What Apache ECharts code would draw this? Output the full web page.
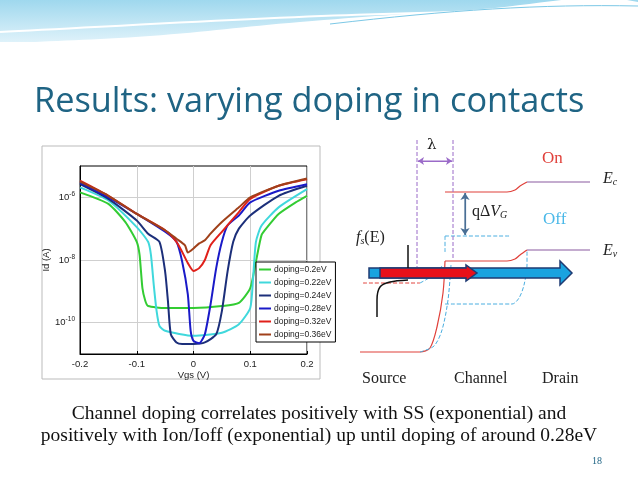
<!DOCTYPE html>
<html>
<head>
<meta charset="utf-8">
<script src="https://cdn.jsdelivr.net/npm/echarts@6/dist/echarts.min.js"></script>
<style>html,body{margin:0;padding:0;background:#fff}#main{width:638px;height:478px}</style>
</head>
<body>
<div id="main"></div>
<script>
// Id-Vgs curves, Id stored as log10(A)
var names = ['doping=0.2eV', 'doping=0.22eV', 'doping=0.24eV', 'doping=0.28eV', 'doping=0.32eV', 'doping=0.36eV'];
var colors = ['#33cc33', '#40d8dc', '#1c2f7a', '#1a1ac8', '#e0201a', '#a0401a'];

var vgs02 = [-0.2, -0.15, -0.12, -0.1, -0.095, -0.09, -0.085, -0.08, -0.05, 0, 0.05, 0.08, 0.1, 0.11, 0.12, 0.13, 0.15, 0.18, 0.2];
var id02 = [-5.84, -6.21, -6.79, -7.42, -7.84, -8.9, -9.3, -9.47, -9.53, -9.53, -9.47, -9.37, -8.9, -8.05, -7.2, -6.95, -6.53, -6.16, -5.95];

var vgs022 = [-0.2, -0.15, -0.1, -0.08, -0.075, -0.07, -0.065, -0.06, -0.05, 0, 0.05, 0.08, 0.1, 0.105, 0.11, 0.12, 0.15, 0.2];
var id022 = [-5.68, -6.1, -6.95, -7.42, -7.84, -8.8, -9.63, -10.1, -10.26, -10.42, -10.32, -10.05, -9.53, -8.58, -7.42, -6.9, -6.32, -5.74];

var vgs024 = [-0.2, -0.15, -0.1, -0.08, -0.06, -0.05, -0.045, -0.04, -0.03, -0.02, 0, 0.02, 0.04, 0.05, 0.06, 0.07, 0.08, 0.1, 0.15, 0.2];
var id024 = [-5.58, -6.05, -6.74, -7.16, -7.42, -8.37, -9.32, -10.37, -10.63, -10.68, -10.68, -10.63, -10.37, -9.63, -8.37, -7.42, -7.0, -6.58, -5.95, -5.63];

var vgs028 = [-0.2, -0.15, -0.1, -0.05, -0.03, -0.02, -0.01, -0.005, 0, 0.01, 0.02, 0.03, 0.04, 0.05, 0.06, 0.08, 0.1, 0.15, 0.2];
var id028 = [-5.53, -6.0, -6.53, -7.1, -7.42, -8.05, -9.1, -10.26, -10.58, -10.66, -10.37, -9.42, -8.26, -7.42, -6.9, -6.58, -6.16, -5.79, -5.58];

var vgs032 = [-0.2, -0.15, -0.1, -0.05, -0.03, -0.02, -0.01, 0, 0.01, 0.02, 0.03, 0.05, 0.08, 0.1, 0.15, 0.2];
var id032 = [-5.47, -5.95, -6.53, -7.05, -7.42, -7.74, -8.1, -8.35, -8.26, -8.0, -7.53, -7.1, -6.47, -6.05, -5.63, -5.42];

var vgs036 = [-0.2, -0.15, -0.1, -0.05, -0.03, -0.015, -0.01, 0, 0.01, 0.02, 0.03, 0.05, 0.08, 0.1, 0.15, 0.2];
var id036 = [-5.5, -5.95, -6.53, -7.05, -7.32, -7.53, -7.76, -7.63, -7.47, -7.37, -7.16, -6.79, -6.32, -6.0, -5.63, -5.4];

var vgsSets = [vgs02, vgs022, vgs024, vgs028, vgs032, vgs036];
var idSets = [id02, id022, id024, id028, id032, id036];

// band diagram schematic (local units of the right-hand panel)
var onEc = [[115, 52], [177, 52], [185, 50], [190, 46], [197, 42]];
var drainEc = [[197, 42], [260, 42]];
var offEc = [[115, 96], [180, 96]];
var offEcStep = [[115, 96], [115, 112]];
var onEv = [[115, 121], [177, 121], [185, 119], [190, 115], [197, 110]];
var drainEv = [[197, 110], [260, 110]];
var offEv = [[115, 164], [182, 164], [189, 158], [194, 145], [197, 125], [197, 110]];
var srcOn = [[30, 212], [90, 212], [100, 208], [107, 187], [113, 153], [115, 121]];
var srcOff = [[90, 212], [104, 206], [112, 190], [118, 160], [121, 125]];
var srcFermi = [[33, 143], [90, 143]];
var srcFermiOff = [[90, 143], [102, 136], [112, 126]];
var lambdaL = [[87, 0], [87, 127]];
var lambdaR = [[123, 0], [123, 120]];
var lambdaArrow = [[88, 21], [122, 21]];
var dvArrow = [[135, 53], [135, 95]];
var fsTop = [[78, 105], [78, 128]];
var fsBottom = [[78, 140], [60, 142], [50, 147], [47, 160], [47, 177]];
var arrows = [[39, 242, 133], [50, 147, 133]];

var chart = echarts.init(document.getElementById('main'));

var series = [];
for (var i = 0; i < names.length; i++) {
  var pts = [];
  for (var j = 0; j < vgsSets[i].length; j++) pts.push([vgsSets[i][j], idSets[i][j]]);
  series.push({
    name: names[i], type: 'line', xAxisIndex: 0, yAxisIndex: 0,
    data: pts, showSymbol: false, smooth: 0.2,
    lineStyle: { color: colors[i], width: 2 }, itemStyle: { color: colors[i] }
  });
}

function band(data, color, dashed, width, extra) {
  var s = {
    type: 'line', xAxisIndex: 1, yAxisIndex: 1, data: data, showSymbol: false,
    silent: true, smooth: 0.3, z: 3,
    lineStyle: { color: color, width: width || 1, type: dashed ? 'dashed' : 'solid' }
  };
  if (extra) for (var k in extra) s[k] = extra[k];
  return s;
}

series.push(band(onEc, '#e0403a', false, 1.2));
series.push(band(drainEc, '#8a5aa0', false, 1.2));
series.push(band(offEc, '#4aaee0', true, 1));
series.push(band(offEcStep, '#4aaee0', true, 1));
series.push(band(onEv, '#e0403a', false, 1.2));
series.push(band(drainEv, '#8a5aa0', false, 1.2));
series.push(band(offEv, '#4aaee0', true, 1));
series.push(band(srcOn, '#e0403a', false, 1.2));
series.push(band(srcOff, '#4aaee0', true, 1));
series.push(band(srcFermi, '#e0403a', true, 1));
series.push(band(srcFermiOff, '#4aaee0', true, 1));
series.push(band(lambdaL, '#9a6ac8', true, 1, { smooth: false }));
series.push(band(lambdaR, '#9a6ac8', true, 1, { smooth: false }));
series.push(band(lambdaArrow, '#9a6ac8', false, 1, { smooth: false, showSymbol: false,
  markLine: { silent: true, symbol: ['arrow', 'arrow'], symbolSize: 6, label: { show: false }, lineStyle: { color: '#9a6ac8', type: 'solid', width: 1 }, data: [[{ coord: lambdaArrow[0] }, { coord: lambdaArrow[1] }]] } }));
series.push(band(dvArrow, '#4a6f95', false, 1.2, { smooth: false, showSymbol: false,
  markLine: { silent: true, symbol: ['arrow', 'arrow'], symbolSize: 7, label: { show: false }, lineStyle: { color: '#4a6f95', type: 'solid', width: 1.2 }, data: [[{ coord: dvArrow[0] }, { coord: dvArrow[1] }]] } }));
series.push(band(fsTop, '#111', false, 1.5, { smooth: false, z: 6 }));
series.push(band(fsBottom, '#111', false, 1.5, { z: 6 }));

// transport arrows: [start, tip, y]
var arrowShape = [
  { body: 5, head: 12, len: 12, fill: '#1aa3e0' },
  { body: 5, head: 8, len: 11, fill: '#e8101a' }
];
series.push({
  type: 'custom', xAxisIndex: 1, yAxisIndex: 1, data: arrows, z: 5, silent: true,
  renderItem: function (params, api) {
    var a = arrowShape[params.dataIndex];
    var p0 = api.coord([api.value(0), api.value(2)]);
    var p1 = api.coord([api.value(1), api.value(2)]);
    var hx = p1[0] - a.len, y = p0[1];
    return {
      type: 'polygon',
      shape: { points: [[p0[0], y - a.body], [hx, y - a.body], [hx, y - a.head], [p1[0], y], [hx, y + a.head], [hx, y + a.body], [p0[0], y + a.body]] },
      style: { fill: a.fill, stroke: '#1f3b73', lineWidth: 1.5 }
    };
  }
});

var serif = 'Liberation Serif';
function it(size) { return { fontStyle: 'italic', fontFamily: serif, fontSize: size, fill: '#222' }; }

var option = {
  animation: false,
  backgroundColor: '#ffffff',
  grid: [
    { left: 80, top: 166, width: 227, height: 188, show: true, borderColor: '#000', borderWidth: 1, backgroundColor: '#fff' },
    { left: 330, top: 140, width: 300, height: 250, show: false }
  ],
  legend: {
    data: names, orient: 'vertical', left: 256, top: 262,
    backgroundColor: '#fff', borderColor: '#000', borderWidth: 1,
    padding: [3, 4, 3, 3], itemGap: 4, itemWidth: 12, itemHeight: 2,
    icon: 'rect', z: 10,
    textStyle: { fontFamily: 'Liberation Sans Narrow, Liberation Sans', fontSize: 8.5, color: '#222', padding: [0, 0, 0, -2] }
  },
  xAxis: [
    {
      type: 'value', gridIndex: 0, min: -0.2, max: 0.2, interval: 0.1,
      name: 'Vgs (V)', nameLocation: 'middle', nameGap: 16,
      nameTextStyle: { fontFamily: 'Liberation Sans', fontSize: 9.5, color: '#222' },
      axisLine: { onZero: false, lineStyle: { color: '#000' } },
      axisTick: { inside: true, length: 3, lineStyle: { color: '#000' } },
      splitLine: { show: true, lineStyle: { color: '#cfcfcf' } },
      axisLabel: { fontFamily: 'Liberation Sans', fontSize: 9.5, color: '#222', margin: 5,
        formatter: function (v) { return v === 0 ? '0' : String(Math.round(v * 10) / 10); } }
    },
    { type: 'value', gridIndex: 1, min: 0, max: 300, show: false }
  ],
  yAxis: [
    {
      type: 'value', gridIndex: 0, min: -11, max: -5, interval: 1,
      name: 'Id (A)', nameLocation: 'middle', nameGap: 26, nameRotate: 90,
      nameTextStyle: { fontFamily: 'Liberation Sans', fontSize: 9.5, color: '#222' },
      axisLine: { onZero: false, lineStyle: { color: '#000' } },
      axisTick: { show: false },
      splitLine: { show: true, lineStyle: { color: ['rgba(0,0,0,0)', '#cfcfcf'] } },
      axisLabel: {
        fontFamily: 'Liberation Sans', fontSize: 9.5, color: '#222', margin: 5,
        formatter: function (v) { return (Math.abs(v) % 2 === 0 && v > -11 && v < -5) ? '10{s|' + v + '}' : ''; },
        rich: { s: { fontSize: 6.5, verticalAlign: 'top', padding: [0, 0, 6, 0], color: '#222' } }
      }
    },
    { type: 'value', gridIndex: 1, min: 0, max: 250, inverse: true, show: false }
  ],
  graphic: [
    // slide decoration at top
    { type: 'rect', shape: { x: 0, y: 0, width: 638, height: 42 }, style: { fill: new echarts.graphic.LinearGradient(0, 0, 0, 1, [{ offset: 0, color: '#9fd8ee' }, { offset: 1, color: '#dff2fa' }]) }, z: -10 },
    { type: 'polygon', shape: { points: [[0, 44], [150, 36], [300, 22], [470, 10], [638, 2], [638, 46], [0, 46]], smooth: 0.4 }, style: { fill: '#fff' }, z: -9 },
    { type: 'bezierCurve', shape: { x1: 0, y1: 32, x2: 638, y2: 12, cpx1: 200, cpy1: 22, cpx2: 400, cpy2: 8 }, style: { fill: 'none', stroke: '#ffffff', lineWidth: 2 }, z: -8 },
    { type: 'bezierCurve', shape: { x1: 330, y1: 24, x2: 638, y2: 6, cpx1: 450, cpy1: 10, cpx2: 540, cpy2: 4 }, style: { fill: 'none', stroke: '#7cc8e6', lineWidth: 1 }, z: -8 },
    { type: 'text', left: 34, top: 85, style: { text: 'Results: varying doping in contacts', fontFamily: 'Open Sans', fontSize: 34.3, fill: '#1f6484' } },
    // plot image frame
    { type: 'rect', shape: { x: 42, y: 146, width: 278, height: 233 }, style: { fill: 'none', stroke: '#bbbbbb', lineWidth: 1 }, z: -5 },
    // band diagram labels
    { type: 'text', left: 427, top: 138, style: { text: 'λ', fontFamily: 'DejaVu Serif', fontSize: 15, fill: '#222' } },
    { type: 'text', left: 542, top: 150, style: { text: 'On', fontFamily: serif, fontSize: 17, fill: '#e0403a' } },
    { type: 'text', left: 543, top: 211, style: { text: 'Off', fontFamily: serif, fontSize: 17, fill: '#4ab8e8' } },
    { type: 'text', left: 472, top: 204, style: { text: 'qΔ{i|V}{s|G}', fontFamily: serif, fontSize: 16, fill: '#222', rich: { i: it(16), s: { fontStyle: 'italic', fontFamily: serif, fontSize: 10, padding: [7, 0, 0, 0], fill: '#222' } } } },
    { type: 'text', left: 356, top: 230, style: { text: '{i|f}{s|s}(E)', fontFamily: serif, fontSize: 16, fill: '#222', rich: { i: it(16), s: { fontStyle: 'italic', fontFamily: serif, fontSize: 10, padding: [7, 0, 0, 0], fill: '#222' } } } },
    { type: 'text', left: 603, top: 171, style: { text: '{i|E}{s|c}', rich: { i: it(16), s: { fontStyle: 'italic', fontFamily: serif, fontSize: 10, padding: [7, 0, 0, 0], fill: '#222' } } } },
    { type: 'text', left: 603, top: 243, style: { text: '{i|E}{s|v}', rich: { i: it(16), s: { fontStyle: 'italic', fontFamily: serif, fontSize: 10, padding: [7, 0, 0, 0], fill: '#222' } } } },
    { type: 'text', left: 362, top: 371, style: { text: 'Source', fontFamily: serif, fontSize: 16, fill: '#222' } },
    { type: 'text', left: 454, top: 371, style: { text: 'Channel', fontFamily: serif, fontSize: 16, fill: '#222' } },
    { type: 'text', left: 542, top: 371, style: { text: 'Drain', fontFamily: serif, fontSize: 16, fill: '#222' } },
    // caption
    { type: 'text', left: 'center', top: 404, style: { text: 'Channel doping correlates positively with SS (exponential) and', fontFamily: serif, fontSize: 19.5, fill: '#111' } },
    { type: 'text', left: 'center', top: 426, style: { text: 'positively with Ion/Ioff (exponential) up until doping of around 0.28eV', fontFamily: serif, fontSize: 19.5, fill: '#111' } },
    { type: 'text', left: 592, top: 456, style: { text: '18', fontFamily: serif, fontSize: 10, fill: '#1f6484' } }
  ],
  series: series
};
chart.setOption(option);
</script>
</body>
</html>
